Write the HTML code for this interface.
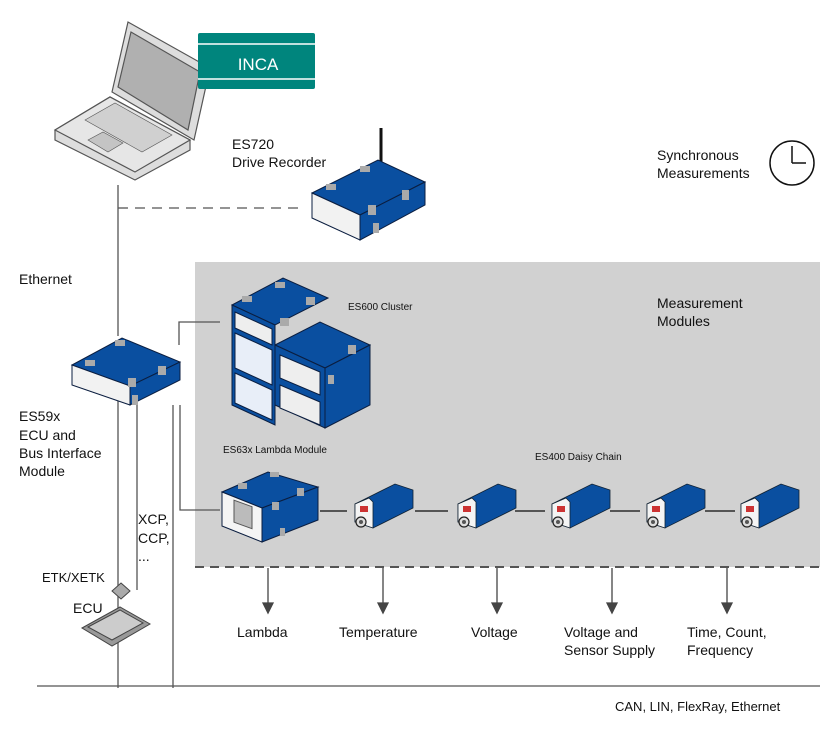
<!DOCTYPE html>
<html><head><meta charset="utf-8"><style>
html,body{margin:0;padding:0;background:#fff}
svg{display:block}
text{font-family:"Liberation Sans",sans-serif;fill:#111}
</style></head><body>
<svg width="840" height="734" viewBox="0 0 840 734" xmlns="http://www.w3.org/2000/svg">
<defs>
<g id="daisy">
 <polygon points="0,12 40,-8 58,-2 58,16 18,36 0,30" fill="#0a4fa0" stroke="#123" stroke-width="0.8"/>
 <polygon points="0,12 14,6 18,10 18,36 0,30" fill="#f4f4f4" stroke="#123" stroke-width="0.8"/>
 <circle cx="6" cy="30" r="5" fill="#ddd" stroke="#222" stroke-width="1.2"/>
 <circle cx="6" cy="30" r="2" fill="#555"/>
 <rect x="5" y="14" width="8" height="6" fill="#c33"/>
</g>
</defs>

<!-- gray measurement area -->
<rect x="195" y="262" width="625" height="305" fill="#d1d1d1"/>
<line x1="195" y1="567" x2="820" y2="567" stroke="#555" stroke-width="2" stroke-dasharray="9,6"/>

<!-- lines -->
<g stroke="#555" stroke-width="1.3" fill="none">
 <line x1="118" y1="185" x2="118" y2="336"/>
 <line x1="118" y1="208" x2="305" y2="208" stroke-dasharray="10,7"/>
 <line x1="118" y1="400" x2="118" y2="688"/>
 <line x1="137" y1="405" x2="137" y2="590"/>
 <line x1="173" y1="405" x2="173" y2="688"/>
 <polyline points="180,405 180,510 220,510"/>
 <polyline points="179,345 179,322 220,322"/>
 <line x1="37" y1="686" x2="820" y2="686"/>
 <line x1="320" y1="511" x2="347" y2="511" stroke-width="2"/>
 <line x1="415" y1="511" x2="448" y2="511" stroke-width="2"/>
 <line x1="515" y1="511" x2="545" y2="511" stroke-width="2"/>
 <line x1="610" y1="511" x2="640" y2="511" stroke-width="2"/>
 <line x1="705" y1="511" x2="735" y2="511" stroke-width="2"/>
</g>
<g stroke="#444" stroke-width="1.3" fill="#444">
 <line x1="268" y1="568" x2="268" y2="605"/><polygon points="263,603 273,603 268,613"/>
 <line x1="383" y1="568" x2="383" y2="605"/><polygon points="378,603 388,603 383,613"/>
 <line x1="497" y1="568" x2="497" y2="605"/><polygon points="492,603 502,603 497,613"/>
 <line x1="612" y1="568" x2="612" y2="605"/><polygon points="607,603 617,603 612,613"/>
 <line x1="727" y1="568" x2="727" y2="605"/><polygon points="722,603 732,603 727,613"/>
</g>

<!-- laptop -->
<g stroke="#555" stroke-width="1.2">
 <polygon points="55,130 110,97 190,140 190,150 135,180 55,140" fill="#ddd"/>
 <polygon points="55,130 110,97 190,140 135,172" fill="#e6e6e6"/>
 <polygon points="112,92 128,22 210,68 194,140" fill="#ddd"/>
 <polygon points="118,87 131,32 200,72 188,130" fill="#b0b0b0"/>
 <polygon points="85,120 115,103 172,135 142,152" fill="#d0d0d0" stroke-width="0.6"/>
 <polygon points="88,140 103,132 123,143 108,152" fill="#c4c4c4" stroke-width="0.6"/>
</g>
<!-- INCA -->
<rect x="198" y="33" width="117" height="56" rx="2" fill="#00857d"/>
<line x1="198" y1="44" x2="315" y2="44" stroke="#fff" stroke-width="1.5"/>
<line x1="198" y1="79" x2="315" y2="79" stroke="#fff" stroke-width="1.5"/>
<text x="258" y="70" font-size="17" text-anchor="middle" style="fill:#fff">INCA</text>

<!-- ES720 -->
<line x1="381" y1="128" x2="381" y2="168" stroke="#111" stroke-width="3"/>
<g stroke="#0b1e40" stroke-width="1">
 <polygon points="312,193 378,160 425,182 360,215" fill="#0a4fa0"/>
 <polygon points="312,193 360,215 360,240 312,218" fill="#f2f2f2"/>
 <polygon points="360,215 425,182 425,205 360,240" fill="#0a4fa0"/>
</g>
<g fill="#aaa"><rect x="326" y="184" width="10" height="6"/><rect x="360" y="166" width="10" height="6"/><rect x="402" y="190" width="7" height="10"/><rect x="368" y="205" width="8" height="10"/><rect x="373" y="223" width="6" height="10"/></g>

<!-- ES59x -->
<g stroke="#0b1e40" stroke-width="1">
 <polygon points="72,365 122,338 180,362 130,386" fill="#0a4fa0"/>
 <polygon points="72,365 130,386 130,405 72,385" fill="#f2f2f2"/>
 <polygon points="130,386 180,362 180,380 130,405" fill="#0a4fa0"/>
</g>
<g fill="#aaa"><rect x="115" y="340" width="10" height="6"/><rect x="85" y="360" width="10" height="6"/><rect x="158" y="366" width="8" height="9"/><rect x="128" y="378" width="8" height="9"/><rect x="132" y="395" width="6" height="10"/></g>

<!-- ES600 cluster -->
<g stroke="#0b1e40" stroke-width="1">
 <polygon points="275,345 320,322 370,345 325,368" fill="#0a4fa0"/>
 <polygon points="325,368 370,345 370,405 325,428" fill="#0a4fa0"/>
 <polygon points="275,345 325,368 325,428 275,405" fill="#0a4fa0"/>
 <polygon points="280,355 320,372 320,395 280,378" fill="#eee"/>
 <polygon points="280,385 320,402 320,425 280,408" fill="#eee"/>
 <polygon points="232,305 283,278 328,298 275,325" fill="#0a4fa0"/>
 <polygon points="232,305 275,325 275,425 232,405" fill="#0a4fa0"/>
 <polygon points="235,312 272,329 272,345 235,328" fill="#eee"/>
 <polygon points="235,333 272,350 272,385 235,368" fill="#e8eef8"/>
 <polygon points="235,373 272,390 272,420 235,403" fill="#e8eef8"/>
</g>
<g fill="#aaa"><rect x="275" y="282" width="10" height="6"/><rect x="242" y="296" width="10" height="6"/><rect x="306" y="297" width="9" height="8"/><rect x="280" y="318" width="9" height="8"/><rect x="348" y="345" width="8" height="9"/><rect x="328" y="375" width="6" height="9"/></g>

<!-- ES63x lambda -->
<g stroke="#0b1e40" stroke-width="1">
 <polygon points="222,492 268,472 318,487 262,508" fill="#0a4fa0"/>
 <polygon points="262,508 318,487 318,520 262,542" fill="#0a4fa0"/>
 <polygon points="222,492 262,508 262,542 222,526" fill="#f4f4f4"/>
 <rect x="234" y="500" width="18" height="22" fill="#bbb" stroke="#555" transform="skewY(20) translate(0,-85)"/>
</g>
<g fill="#aaa"><rect x="238" y="483" width="9" height="6"/><rect x="270" y="472" width="9" height="5"/><rect x="297" y="488" width="7" height="8"/><rect x="272" y="502" width="7" height="8"/><rect x="280" y="528" width="5" height="8"/></g>

<!-- daisy chain -->
<use href="#daisy" x="355" y="492"/>
<use href="#daisy" x="458" y="492"/>
<use href="#daisy" x="552" y="492"/>
<use href="#daisy" x="647" y="492"/>
<use href="#daisy" x="741" y="492"/>

<!-- ETK + ECU -->
<polygon points="121,583 130,591 121,599 112,591" fill="#aaa" stroke="#444"/>
<polygon points="82,628 120,607 150,624 112,646" fill="#999" stroke="#444"/>
<polygon points="88,627 120,610 143,623 112,640" fill="#ccc" stroke="#444"/>

<!-- clock -->
<circle cx="792" cy="163" r="22" fill="none" stroke="#111" stroke-width="1.5"/>
<line x1="792" y1="163" x2="792" y2="146" stroke="#111" stroke-width="1.5"/>
<line x1="792" y1="163" x2="806" y2="163" stroke="#111" stroke-width="1.5"/>

<!-- text -->
<g font-size="14">
 <text x="232" y="149">ES720</text>
 <text x="232" y="167">Drive Recorder</text>
 <text x="657" y="160">Synchronous</text>
 <text x="657" y="178">Measurements</text>
 <text x="19" y="284">Ethernet</text>
 <text x="657" y="308">Measurement</text>
 <text x="657" y="326">Modules</text>
 <text x="19" y="421">ES59x</text>
 <text x="19" y="440">ECU and</text>
 <text x="19" y="458">Bus Interface</text>
 <text x="19" y="476">Module</text>
 <text x="138" y="524">XCP,</text>
 <text x="138" y="543">CCP,</text>
 <text x="138" y="561">...</text>
 <text x="42" y="582" font-size="13">ETK/XETK</text>
 <text x="73" y="613">ECU</text>
 <text x="237" y="637">Lambda</text>
 <text x="339" y="637">Temperature</text>
 <text x="471" y="637">Voltage</text>
 <text x="564" y="637">Voltage and</text>
 <text x="564" y="655">Sensor  Supply</text>
 <text x="687" y="637">Time, Count,</text>
 <text x="687" y="655">Frequency</text>
 <text x="615" y="711" font-size="13">CAN, LIN, FlexRay, Ethernet</text>
</g>
<g font-size="10">
 <text x="348" y="310">ES600 Cluster</text>
 <text x="223" y="453">ES63x Lambda Module</text>
 <text x="535" y="460">ES400 Daisy Chain</text>
</g>
</svg>
</body></html>
